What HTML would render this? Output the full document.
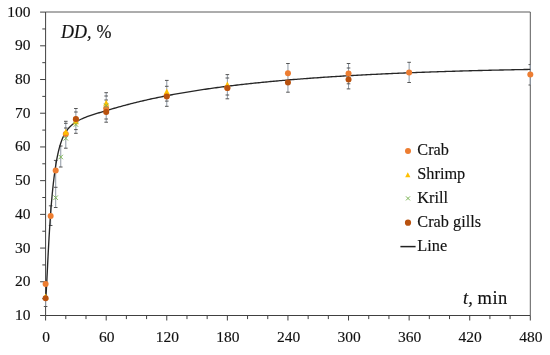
<!DOCTYPE html><html><head><meta charset="utf-8"><style>
html,body{margin:0;padding:0;background:#fff;}
svg{display:block;}
text{font-family:"Liberation Serif",serif;fill:#111;stroke:#111;stroke-width:0.15px;}
</style></head><body>
<svg width="550" height="355" viewBox="0 0 550 355">

<path d="M45.60 12H530.3V315.5" fill="none" stroke="#5a5a5a" stroke-width="1"/>
<path d="M45.60 12V315.5H530.3" fill="none" stroke="#404040" stroke-width="1"/>
<path d="M40.10 315.49H45.60M42.30 298.64H45.60M40.10 281.78H45.60M42.30 264.93H45.60M40.10 248.07H45.60M42.30 231.22H45.60M40.10 214.36H45.60M42.30 197.50H45.60M40.10 180.65H45.60M42.30 163.79H45.60M40.10 146.94H45.60M42.30 130.09H45.60M40.10 113.23H45.60M42.30 96.38H45.60M40.10 79.52H45.60M42.30 62.66H45.60M40.10 45.81H45.60M42.30 28.95H45.60M40.10 12.10H45.60M45.60 315.5V320.50M65.80 315.5V319.10M85.99 315.5V319.10M106.19 315.5V320.50M126.38 315.5V319.10M146.58 315.5V319.10M166.78 315.5V320.50M186.97 315.5V319.10M207.17 315.5V319.10M227.36 315.5V320.50M247.56 315.5V319.10M267.76 315.5V319.10M287.95 315.5V320.50M308.15 315.5V319.10M328.34 315.5V319.10M348.54 315.5V320.50M368.74 315.5V319.10M388.93 315.5V319.10M409.13 315.5V320.50M429.32 315.5V319.10M449.52 315.5V319.10M469.72 315.5V320.50M489.91 315.5V319.10M510.11 315.5V319.10M530.30 315.5V320.50" fill="none" stroke="#404040" stroke-width="1"/>
<text x="30.4" y="319.94" font-size="15.5" text-anchor="end">10</text>
<text x="30.4" y="286.23" font-size="15.5" text-anchor="end">20</text>
<text x="30.4" y="252.52" font-size="15.5" text-anchor="end">30</text>
<text x="30.4" y="218.81" font-size="15.5" text-anchor="end">40</text>
<text x="30.4" y="185.10" font-size="15.5" text-anchor="end">50</text>
<text x="30.4" y="151.39" font-size="15.5" text-anchor="end">60</text>
<text x="30.4" y="117.68" font-size="15.5" text-anchor="end">70</text>
<text x="30.4" y="83.97" font-size="15.5" text-anchor="end">80</text>
<text x="30.4" y="50.26" font-size="15.5" text-anchor="end">90</text>
<text x="30.4" y="16.55" font-size="15.5" text-anchor="end">100</text>
<text x="46.1" y="341.95" font-size="15.5" text-anchor="middle">0</text>
<text x="106.7" y="341.95" font-size="15.5" text-anchor="middle">60</text>
<text x="167.3" y="341.95" font-size="15.5" text-anchor="middle">120</text>
<text x="227.9" y="341.95" font-size="15.5" text-anchor="middle">180</text>
<text x="288.5" y="341.95" font-size="15.5" text-anchor="middle">240</text>
<text x="349.0" y="341.95" font-size="15.5" text-anchor="middle">300</text>
<text x="409.6" y="341.95" font-size="15.5" text-anchor="middle">360</text>
<text x="470.2" y="341.95" font-size="15.5" text-anchor="middle">420</text>
<text x="530.8" y="341.95" font-size="15.5" text-anchor="middle">480</text>
<text x="61" y="38.1" font-size="18"><tspan font-style="italic">DD,</tspan><tspan dx="0.6"> %</tspan></text>
<text x="463" y="303.5" font-size="18.5"><tspan font-style="italic">t,</tspan> <tspan letter-spacing="0.6">min</tspan></text>
<path d="M45.60 297.00V306.50M50.65 205.80V225.50M55.70 160.40V207.50M60.75 146.00V167.00M65.80 121.30V148.20M75.89 108.50V133.30M106.19 92.70V122.20M166.78 80.40V106.30M227.36 74.60V98.80M287.95 63.50V92.20M348.54 63.50V88.90M409.13 62.30V82.50M530.30 64.6V85" fill="none" stroke="#8f99a5" stroke-width="1"/>
<path d="M43.80 297.00h3.6M43.80 306.50h3.6M48.85 205.80h3.6M48.85 225.50h3.6M53.90 160.40h3.6M53.90 207.50h3.6M53.90 187.30h3.6M58.95 146.00h3.6M58.95 167.00h3.6M64.00 121.30h3.6M64.00 148.20h3.6M64.00 123.30h3.6M64.00 128.00h3.6M74.09 108.50h3.6M74.09 133.30h3.6M74.09 112.00h3.6M74.09 129.60h3.6M104.39 92.70h3.6M104.39 122.20h3.6M104.39 96.00h3.6M104.39 100.00h3.6M104.39 119.00h3.6M164.98 80.40h3.6M164.98 106.30h3.6M164.98 86.30h3.6M164.98 101.10h3.6M225.56 74.60h3.6M225.56 98.80h3.6M225.56 78.00h3.6M225.56 95.00h3.6M286.15 63.50h3.6M286.15 92.20h3.6M346.74 63.50h3.6M346.74 88.90h3.6M346.74 68.00h3.6M346.74 83.80h3.6M407.33 62.30h3.6M407.33 82.50h3.6M528.50 64.6h1.8M528.50 85h1.8" fill="none" stroke="#555" stroke-width="1"/>
<polyline points="45.60,296.95 45.80,297.07 46.00,295.30 46.21,292.47 46.41,289.01 46.61,285.19 46.81,281.18 47.01,277.06 47.22,272.91 47.42,268.78 47.62,264.68 47.82,260.63 48.02,256.66 48.23,252.75 48.43,248.93 48.63,245.19 48.83,241.54 49.03,237.99 49.24,234.53 49.44,231.18 49.64,227.92 49.84,224.76 50.04,221.70 50.25,218.74 50.45,215.87 50.65,213.09 50.85,210.39 51.05,207.79 51.25,205.26 51.46,202.82 51.66,200.45 51.86,198.16 52.06,195.94 52.26,193.79 52.47,191.70 52.67,189.68 52.87,187.72 53.07,185.82 53.27,183.98 53.48,182.19 53.68,180.46 53.88,178.78 54.08,177.14 54.28,175.56 54.49,174.02 54.69,172.53 54.89,171.08 55.09,169.68 55.29,168.31 55.50,166.99 55.70,165.70 55.90,164.45 56.10,163.24 56.30,162.06 56.51,160.91 56.71,159.80 56.91,158.72 57.11,157.67 57.31,156.65 57.52,155.66 57.72,154.69 57.92,153.76 58.12,152.85 58.32,151.97 58.53,151.11 58.73,150.28 58.93,149.47 59.13,148.68 59.33,147.92 59.54,147.18 59.74,146.46 59.94,145.76 60.14,145.08 60.34,144.43 60.55,143.79 60.75,143.17 60.95,142.57 61.15,141.98 61.35,141.41 61.55,140.86 61.76,140.32 61.96,139.80 62.16,139.29 62.36,138.80 62.56,138.31 62.77,137.84 62.97,137.39 63.17,136.94 63.37,136.51 63.57,136.09 63.78,135.67 63.98,135.27 64.18,134.88 64.38,134.50 64.58,134.12 64.79,133.76 64.99,133.40 65.19,133.06 65.39,132.72 65.59,132.39 65.80,132.06 66.00,131.75 66.20,131.44 66.40,131.14 66.60,130.84 66.81,130.55 67.01,130.27 67.21,129.99 67.41,129.72 67.61,129.46 67.82,129.20 68.02,128.95 68.22,128.70 68.42,128.45 68.62,128.22 68.83,127.98 69.03,127.75 69.23,127.53 69.43,127.31 69.63,127.09 69.84,126.88 70.04,126.67 70.24,126.47 70.44,126.27 70.64,126.07 70.84,125.88 71.05,125.69 71.25,125.51 71.45,125.32 71.65,125.14 71.85,124.97 72.06,124.80 72.26,124.63 72.46,124.46 72.66,124.29 72.86,124.13 73.07,123.97 73.27,123.82 73.47,123.66 73.67,123.51 73.87,123.36 74.08,123.21 74.28,123.07 74.48,122.93 74.68,122.79 74.88,122.65 75.09,122.51 75.29,122.38 75.49,122.25 75.69,122.12 75.89,121.99 76.40,121.67 77.92,120.79 79.44,119.99 80.95,119.25 82.47,118.56 83.99,117.92 85.51,117.32 87.03,116.74 88.54,116.20 90.06,115.67 91.58,115.16 93.10,114.66 94.62,114.17 96.13,113.69 97.65,113.22 99.17,112.76 100.69,112.29 102.21,111.83 103.72,111.37 105.24,110.92 106.76,110.46 108.28,110.01 109.80,109.57 111.31,109.12 112.83,108.68 114.35,108.24 115.87,107.81 117.39,107.38 118.91,106.96 120.42,106.53 121.94,106.12 123.46,105.71 124.98,105.30 126.50,104.89 128.01,104.50 129.53,104.10 131.05,103.71 132.57,103.33 134.09,102.94 135.60,102.57 137.12,102.19 138.64,101.83 140.16,101.46 141.68,101.10 143.19,100.75 144.71,100.40 146.23,100.05 147.75,99.70 149.27,99.37 150.78,99.03 152.30,98.70 153.82,98.37 155.34,98.05 156.86,97.73 158.38,97.41 159.89,97.10 161.41,96.79 162.93,96.48 164.45,96.18 165.97,95.89 167.48,95.59 169.00,95.30 170.52,95.01 172.04,94.73 173.56,94.44 175.07,94.17 176.59,93.89 178.11,93.62 179.63,93.35 181.15,93.08 182.66,92.82 184.18,92.56 185.70,92.30 187.22,92.05 188.74,91.80 190.25,91.55 191.77,91.31 193.29,91.06 194.81,90.82 196.33,90.58 197.85,90.35 199.36,90.12 200.88,89.89 202.40,89.66 203.92,89.43 205.44,89.21 206.95,88.99 208.47,88.77 209.99,88.56 211.51,88.34 213.03,88.13 214.54,87.92 216.06,87.72 217.58,87.51 219.10,87.31 220.62,87.11 222.13,86.91 223.65,86.72 225.17,86.52 226.69,86.33 228.21,86.14 229.72,85.95 231.24,85.77 232.76,85.58 234.28,85.40 235.80,85.22 237.32,85.04 238.83,84.86 240.35,84.69 241.87,84.52 243.39,84.35 244.91,84.18 246.42,84.01 247.94,83.84 249.46,83.68 250.98,83.51 252.50,83.35 254.01,83.19 255.53,83.03 257.05,82.88 258.57,82.72 260.09,82.57 261.60,82.42 263.12,82.27 264.64,82.12 266.16,81.97 267.68,81.82 269.19,81.68 270.71,81.53 272.23,81.39 273.75,81.25 275.27,81.11 276.79,80.97 278.30,80.84 279.82,80.70 281.34,80.57 282.86,80.44 284.38,80.30 285.89,80.17 287.41,80.05 288.93,79.92 290.45,79.79 291.97,79.67 293.48,79.54 295.00,79.42 296.52,79.30 298.04,79.18 299.56,79.06 301.07,78.94 302.59,78.82 304.11,78.70 305.63,78.59 307.15,78.48 308.66,78.36 310.18,78.25 311.70,78.14 313.22,78.03 314.74,77.92 316.26,77.81 317.77,77.71 319.29,77.60 320.81,77.50 322.33,77.39 323.85,77.29 325.36,77.19 326.88,77.09 328.40,76.99 329.92,76.89 331.44,76.79 332.95,76.69 334.47,76.59 335.99,76.50 337.51,76.40 339.03,76.31 340.54,76.22 342.06,76.13 343.58,76.03 345.10,75.94 346.62,75.85 348.13,75.77 349.65,75.68 351.17,75.59 352.69,75.50 354.21,75.42 355.73,75.33 357.24,75.25 358.76,75.17 360.28,75.08 361.80,75.00 363.32,74.92 364.83,74.84 366.35,74.76 367.87,74.68 369.39,74.60 370.91,74.53 372.42,74.45 373.94,74.37 375.46,74.30 376.98,74.22 378.50,74.15 380.01,74.08 381.53,74.01 383.05,73.93 384.57,73.86 386.09,73.79 387.60,73.72 389.12,73.65 390.64,73.58 392.16,73.52 393.68,73.45 395.20,73.38 396.71,73.32 398.23,73.25 399.75,73.19 401.27,73.12 402.79,73.06 404.30,72.99 405.82,72.93 407.34,72.87 408.86,72.81 410.38,72.75 411.89,72.69 413.41,72.63 414.93,72.57 416.45,72.51 417.97,72.45 419.48,72.39 421.00,72.34 422.52,72.28 424.04,72.23 425.56,72.17 427.07,72.12 428.59,72.06 430.11,72.01 431.63,71.95 433.15,71.90 434.67,71.85 436.18,71.80 437.70,71.75 439.22,71.70 440.74,71.64 442.26,71.60 443.77,71.55 445.29,71.50 446.81,71.45 448.33,71.40 449.85,71.35 451.36,71.31 452.88,71.26 454.40,71.21 455.92,71.17 457.44,71.12 458.95,71.08 460.47,71.03 461.99,70.99 463.51,70.95 465.03,70.90 466.54,70.86 468.06,70.82 469.58,70.78 471.10,70.73 472.62,70.69 474.14,70.65 475.65,70.61 477.17,70.57 478.69,70.53 480.21,70.49 481.73,70.46 483.24,70.42 484.76,70.38 486.28,70.34 487.80,70.31 489.32,70.27 490.83,70.23 492.35,70.20 493.87,70.16 495.39,70.13 496.91,70.09 498.42,70.06 499.94,70.02 501.46,69.99 502.98,69.96 504.50,69.92 506.01,69.89 507.53,69.86 509.05,69.83 510.57,69.80 512.09,69.76 513.61,69.73 515.12,69.70 516.64,69.67 518.16,69.64 519.68,69.61 521.20,69.58 522.71,69.55 524.23,69.53 525.75,69.50 527.27,69.47 528.79,69.44 530.30,69.42" fill="none" stroke="#262626" stroke-width="1.35" stroke-linejoin="round"/>
<circle cx="45.60" cy="284.10" r="3.0" fill="#ED7D31"/>
<circle cx="50.65" cy="216.00" r="3.0" fill="#ED7D31"/>
<circle cx="55.70" cy="170.50" r="3.0" fill="#ED7D31"/>
<circle cx="65.80" cy="134.10" r="3.0" fill="#ED7D31"/>
<circle cx="75.89" cy="119.50" r="3.0" fill="#ED7D31"/>
<circle cx="106.19" cy="108.30" r="3.0" fill="#ED7D31"/>
<circle cx="166.78" cy="95.80" r="3.0" fill="#ED7D31"/>
<circle cx="227.36" cy="88.10" r="3.0" fill="#ED7D31"/>
<circle cx="287.95" cy="73.30" r="3.0" fill="#ED7D31"/>
<circle cx="348.54" cy="73.60" r="3.0" fill="#ED7D31"/>
<circle cx="409.13" cy="72.50" r="3.0" fill="#ED7D31"/>
<circle cx="530.30" cy="74.60" r="3.0" fill="#ED7D31"/>
<path d="M45.60 293.60L48.60 299.45L42.60 299.45Z" fill="#FFC000"/>
<path d="M65.80 128.80L68.80 134.65L62.80 134.65Z" fill="#FFC000"/>
<path d="M75.89 118.50L78.89 124.35L72.89 124.35Z" fill="#FFC000"/>
<path d="M106.19 99.80L109.19 105.65L103.19 105.65Z" fill="#FFC000"/>
<path d="M166.78 88.60L169.78 94.45L163.78 94.45Z" fill="#FFC000"/>
<path d="M227.36 81.40L230.36 87.25L224.36 87.25Z" fill="#FFC000"/>
<path d="M53.50 195.50L57.90 199.90M57.90 195.50L53.50 199.90" stroke="#7CB556" stroke-width="1" fill="none"/>
<path d="M58.55 154.80L62.95 159.20M62.95 154.80L58.55 159.20" stroke="#7CB556" stroke-width="1" fill="none"/>
<path d="M63.60 136.10L68.00 140.50M68.00 136.10L63.60 140.50" stroke="#7CB556" stroke-width="1" fill="none"/>
<path d="M73.69 122.30L78.09 126.70M78.09 122.30L73.69 126.70" stroke="#7CB556" stroke-width="1" fill="none"/>
<path d="M103.99 103.40L108.39 107.80M108.39 103.40L103.99 107.80" stroke="#7CB556" stroke-width="1" fill="none"/>
<circle cx="45.60" cy="298.20" r="3.0" fill="#B9520F"/>
<circle cx="75.89" cy="119.00" r="3.0" fill="#B9520F"/>
<circle cx="106.19" cy="111.90" r="3.0" fill="#B9520F"/>
<circle cx="166.78" cy="96.40" r="3.0" fill="#B9520F"/>
<circle cx="227.36" cy="88.10" r="3.0" fill="#B9520F"/>
<circle cx="287.95" cy="82.60" r="3.0" fill="#B9520F"/>
<circle cx="348.54" cy="79.40" r="3.0" fill="#B9520F"/>
<circle cx="408" cy="151.1" r="3" fill="#ED7D31"/>
<path d="M407.8 172.2L410.4 177.2L405.2 177.2Z" fill="#FFC000"/>
<path d="M406 196.4L410 200.4M410 196.4L406 200.4" stroke="#7CB556" stroke-width="1"/>
<circle cx="408" cy="222.7" r="3.1" fill="#B9520F"/>
<path d="M400.4 246.6H415.6" stroke="#222" stroke-width="1.5"/>
<text x="417.3" y="155.2" font-size="16.3">Crab</text>
<text x="417.3" y="178.9" font-size="16.3">Shrimp</text>
<text x="417.3" y="202.7" font-size="16.3">Krill</text>
<text x="417.3" y="226.8" font-size="16.3">Crab gills</text>
<text x="417.3" y="250.6" font-size="16.3">Line</text>
</svg></body></html>
